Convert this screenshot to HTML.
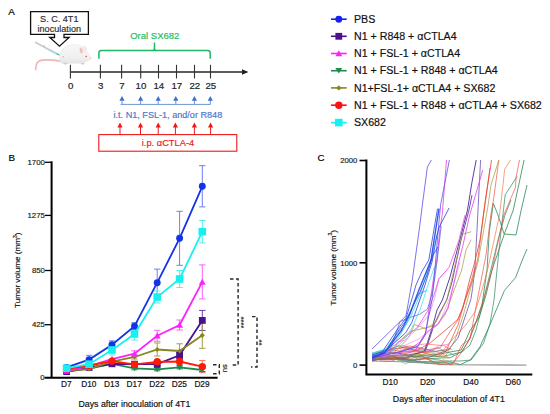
<!DOCTYPE html>
<html><head><meta charset="utf-8"><style>
html,body{margin:0;padding:0;background:#fff;overflow:hidden;width:550px;height:414px;}
svg{display:block;}
text{font-family:"Liberation Sans", sans-serif;stroke-width:0.18px;}
</style></head><body>
<svg width="550" height="414" viewBox="0 0 550 414" font-family='"Liberation Sans", sans-serif'>
<text x="8.2" y="15.1" font-size="9.8" fill="#000" stroke="#000">A</text>
<path d="M30.6 11.6 H88.4 V34.4 H64 V37.5 H69.1 L59.5 46.2 L49.8 37.5 H54.5 V34.4 H30.6 Z" fill="#fff" stroke="#111" stroke-width="1.3" stroke-linejoin="miter"/>
<text x="59.3" y="22.3" font-size="9.1" text-anchor="middle" fill="#303030" stroke="#303030">S. C. 4T1</text>
<text x="59.3" y="31.8" font-size="9.1" text-anchor="middle" fill="#303030" stroke="#303030">inoculation</text>
<defs><linearGradient id="mg" x1="0" y1="0" x2="0" y2="1"><stop offset="0" stop-color="#f6f6f6"/><stop offset="0.65" stop-color="#f0f0f0"/><stop offset="1" stop-color="#e2e2e2"/></linearGradient></defs>
<g>
<path d="M60.5 61.2 C56 60.3 51 59.9 46 59.9 C41 59.9 38.3 61 37 63 C36 64.8 35.7 67 35.7 69.3" fill="none" stroke="#f0b6b6" stroke-width="1.7" stroke-linecap="round"/>
<line x1="35.7" y1="42.5" x2="49.8" y2="50.2" stroke="#cdcdcd" stroke-width="1.9" stroke-linecap="round"/>
<line x1="43.6" y1="44.9" x2="45" y2="47.3" stroke="#bdbdbd" stroke-width="1"/>
<line x1="49.8" y1="50.2" x2="57.6" y2="54.1" stroke="#a9d2e4" stroke-width="1.9"/>
<line x1="56.8" y1="53.7" x2="60" y2="55.2" stroke="#4aa890" stroke-width="1.1"/>
<path d="M59.5 58 C59.5 51 64 46 71 45 C76 44.3 80 45 83 47.3 C86 49.5 88 53 90.2 56 C91.3 57.6 91 59.2 89.5 60.1 C88 61 86 61.5 84.3 62 L84.6 63.4 C83.6 64.2 81.6 64.1 80.6 63.2 L68.5 63.3 C67 64.3 63.8 64.6 62.2 63.6 C60.2 62.6 59.5 60.6 59.5 58 Z" fill="url(#mg)" stroke="#e4e4e4" stroke-width="0.5"/>
<ellipse cx="84.7" cy="48.4" rx="1.5" ry="2.2" fill="#f2f2f2" stroke="#d4d4d4" stroke-width="0.5"/>
<ellipse cx="81.2" cy="50.7" rx="1.9" ry="3.2" transform="rotate(-12 81.2 50.7)" fill="#f0c0c0" stroke="#f8f8f8" stroke-width="0.6"/>
<circle cx="86.1" cy="56.4" r="0.75" fill="#d84848"/>
<circle cx="63.2" cy="56.8" r="0.6" fill="#e07070"/>
<circle cx="90.8" cy="58.2" r="0.6" fill="#eab0b0"/>
<ellipse cx="65.6" cy="63.6" rx="1.8" ry="0.8" fill="#efc0c0"/>
<ellipse cx="82.6" cy="63.7" rx="1.6" ry="0.7" fill="#efc0c0"/>
</g>
<line x1="70.4" y1="72" x2="244" y2="72" stroke="#262626" stroke-width="1.35"/>
<path d="M242 69.3 L248.5 72 L242 74.7 Z" fill="#222"/>
<line x1="70.4" y1="64.8" x2="70.4" y2="78.5" stroke="#333" stroke-width="1.1"/>
<text x="70.7" y="89.0" font-size="9.7" text-anchor="middle" fill="#222" stroke="#222">0</text>
<line x1="100.4" y1="64.8" x2="100.4" y2="78.5" stroke="#333" stroke-width="1.1"/>
<text x="100.7" y="89.0" font-size="9.7" text-anchor="middle" fill="#222" stroke="#222">3</text>
<line x1="121.6" y1="64.8" x2="121.6" y2="78.5" stroke="#333" stroke-width="1.1"/>
<text x="121.89999999999999" y="89.0" font-size="9.7" text-anchor="middle" fill="#222" stroke="#222">7</text>
<line x1="140.7" y1="64.8" x2="140.7" y2="78.5" stroke="#333" stroke-width="1.1"/>
<text x="141.0" y="89.0" font-size="9.7" text-anchor="middle" fill="#222" stroke="#222">10</text>
<line x1="158.5" y1="64.8" x2="158.5" y2="78.5" stroke="#333" stroke-width="1.1"/>
<text x="158.8" y="89.0" font-size="9.7" text-anchor="middle" fill="#222" stroke="#222">14</text>
<line x1="176.5" y1="64.8" x2="176.5" y2="78.5" stroke="#333" stroke-width="1.1"/>
<text x="176.8" y="89.0" font-size="9.7" text-anchor="middle" fill="#222" stroke="#222">17</text>
<line x1="194.5" y1="64.8" x2="194.5" y2="78.5" stroke="#333" stroke-width="1.1"/>
<text x="194.8" y="89.0" font-size="9.7" text-anchor="middle" fill="#222" stroke="#222">22</text>
<line x1="210.5" y1="64.8" x2="210.5" y2="78.5" stroke="#333" stroke-width="1.1"/>
<text x="210.8" y="89.0" font-size="9.7" text-anchor="middle" fill="#222" stroke="#222">25</text>
<path d="M98.9 58.8 V53.1 Q98.9 50.6 101.4 50.6 H152.6 Q154.4 50.6 154.5 48.6 V42.6 M154.5 48.6 Q154.6 50.6 156.4 50.6 H207.7 Q210.2 50.6 210.2 53.1 V58.8" fill="none" stroke="#1fb862" stroke-width="1.5"/>
<text x="154.8" y="38.9" font-size="9.5" text-anchor="middle" fill="#1cc060" stroke="#1cc060">Oral SX682</text>
<line x1="120.6" y1="104.4" x2="210.6" y2="104.4" stroke="#6f95d6" stroke-width="1"/>
<line x1="122.0" y1="99" x2="122.0" y2="104.4" stroke="#6f95d6" stroke-width="1"/>
<path d="M119.4 100.8 L122.0 96 L124.6 100.8 Z" fill="#3e6ed0"/>
<line x1="140.6" y1="99" x2="140.6" y2="104.4" stroke="#6f95d6" stroke-width="1"/>
<path d="M138.0 100.8 L140.6 96 L143.2 100.8 Z" fill="#3e6ed0"/>
<line x1="158.2" y1="99" x2="158.2" y2="104.4" stroke="#6f95d6" stroke-width="1"/>
<path d="M155.6 100.8 L158.2 96 L160.79999999999998 100.8 Z" fill="#3e6ed0"/>
<line x1="175.8" y1="99" x2="175.8" y2="104.4" stroke="#6f95d6" stroke-width="1"/>
<path d="M173.20000000000002 100.8 L175.8 96 L178.4 100.8 Z" fill="#3e6ed0"/>
<line x1="194.4" y1="99" x2="194.4" y2="104.4" stroke="#6f95d6" stroke-width="1"/>
<path d="M191.8 100.8 L194.4 96 L197.0 100.8 Z" fill="#3e6ed0"/>
<line x1="210.3" y1="99" x2="210.3" y2="104.4" stroke="#6f95d6" stroke-width="1"/>
<path d="M207.70000000000002 100.8 L210.3 96 L212.9 100.8 Z" fill="#3e6ed0"/>
<text x="167.9" y="117.6" font-size="9.1" text-anchor="middle" fill="#4a78d0" stroke="#4a78d0">i.t. N1, FSL-1, and/or R848</text>
<line x1="120.0" y1="126" x2="120.0" y2="134.6" stroke="#f01818" stroke-width="1"/>
<path d="M117.4 127.5 L120.0 122.6 L122.6 127.5 Z" fill="#f01818"/>
<line x1="140.5" y1="126" x2="140.5" y2="134.6" stroke="#f01818" stroke-width="1"/>
<path d="M137.9 127.5 L140.5 122.6 L143.1 127.5 Z" fill="#f01818"/>
<line x1="158.2" y1="126" x2="158.2" y2="134.6" stroke="#f01818" stroke-width="1"/>
<path d="M155.6 127.5 L158.2 122.6 L160.79999999999998 127.5 Z" fill="#f01818"/>
<line x1="175.4" y1="126" x2="175.4" y2="134.6" stroke="#f01818" stroke-width="1"/>
<path d="M172.8 127.5 L175.4 122.6 L178.0 127.5 Z" fill="#f01818"/>
<line x1="194.4" y1="126" x2="194.4" y2="134.6" stroke="#f01818" stroke-width="1"/>
<path d="M191.8 127.5 L194.4 122.6 L197.0 127.5 Z" fill="#f01818"/>
<line x1="210.6" y1="126" x2="210.6" y2="134.6" stroke="#f01818" stroke-width="1"/>
<path d="M208.0 127.5 L210.6 122.6 L213.2 127.5 Z" fill="#f01818"/>
<rect x="98.8" y="134.6" width="138" height="16.6" fill="none" stroke="#f01818" stroke-width="1.1"/>
<text x="168" y="145.6" font-size="9.3" text-anchor="middle" fill="#f01818" stroke="#f01818">i.p. αCTLA-4</text>
<line x1="331" y1="19.2" x2="346.7" y2="19.2" stroke="#1420f5" stroke-width="1.6"/>
<circle cx="338.8" cy="19.2" r="3.45" fill="#1420f5"/>
<text x="354" y="22.9" font-size="10.65" fill="#111" stroke="#111">PBS</text>
<line x1="331" y1="36.3" x2="346.7" y2="36.3" stroke="#4a1090" stroke-width="1.6"/>
<rect x="335.40000000000003" y="32.9" width="6.8" height="6.8" fill="#4a1090"/>
<text x="354" y="40.0" font-size="10.65" fill="#111" stroke="#111">N1 + R848 + αCTLA4</text>
<line x1="331" y1="53.5" x2="346.7" y2="53.5" stroke="#ff20ff" stroke-width="1.6"/>
<path d="M338.8 50.3 L342.2 56.3 L335.40000000000003 56.3 Z" fill="#ff20ff"/>
<text x="354" y="57.2" font-size="10.65" fill="#111" stroke="#111">N1 + FSL-1 + αCTLA4</text>
<line x1="331" y1="70.7" x2="346.7" y2="70.7" stroke="#1f8a4c" stroke-width="1.6"/>
<path d="M338.8 73.60000000000001 L342.2 67.9 L335.40000000000003 67.9 Z" fill="#1f8a4c"/>
<text x="354" y="74.4" font-size="10.65" fill="#111" stroke="#111">N1 + FSL-1 + R848 + αCTLA4</text>
<line x1="331" y1="87.9" x2="346.7" y2="87.9" stroke="#86861e" stroke-width="1.6"/>
<path d="M338.8 85.30000000000001 L341.40000000000003 87.9 L338.8 90.5 L336.2 87.9 Z" fill="#86861e"/>
<text x="354" y="91.60000000000001" font-size="10.65" fill="#111" stroke="#111">N1+FSL-1+ αCTLA4 + SX682</text>
<line x1="331" y1="105.2" x2="346.7" y2="105.2" stroke="#ff1010" stroke-width="1.6"/>
<circle cx="338.8" cy="105.2" r="3.7" fill="#ff1010"/>
<text x="354" y="108.9" font-size="10.65" fill="#111" stroke="#111">N1 + FSL-1 + R848 + αCTLA4 + SX682</text>
<line x1="331" y1="122.6" x2="346.7" y2="122.6" stroke="#18f0f0" stroke-width="1.6"/>
<rect x="335.0" y="118.8" width="7.6" height="7.6" fill="#18f0f0"/>
<text x="354" y="126.3" font-size="10.65" fill="#111" stroke="#111">SX682</text>
<text x="8.4" y="160.9" font-size="9.8" fill="#000" stroke="#000">B</text>
<path d="M134.5 366.8 V369.8 M131.3 366.8 H137.7 M131.3 369.8 H137.7" stroke="#1f8a4c" stroke-width="1" fill="none"/>
<path d="M157.2 367.8 V370.8 M154.0 367.8 H160.39999999999998 M154.0 370.8 H160.39999999999998" stroke="#1f8a4c" stroke-width="1" fill="none"/>
<path d="M179.6 365.9 V368.9 M176.4 365.9 H182.79999999999998 M176.4 368.9 H182.79999999999998" stroke="#1f8a4c" stroke-width="1" fill="none"/>
<path d="M202.3 368.5 V371.5 M199.10000000000002 368.5 H205.5 M199.10000000000002 371.5 H205.5" stroke="#1f8a4c" stroke-width="1" fill="none"/>
<path d="M157.2 362.2 V366.2 M154.0 362.2 H160.39999999999998 M154.0 366.2 H160.39999999999998" stroke="#6a40b0" stroke-width="1" fill="none"/>
<path d="M179.6 352.3 V358.3 M176.4 352.3 H182.79999999999998 M176.4 358.3 H182.79999999999998" stroke="#6a40b0" stroke-width="1" fill="none"/>
<path d="M202.3 310.4 V330.4 M199.10000000000002 310.4 H205.5 M199.10000000000002 330.4 H205.5" stroke="#6a40b0" stroke-width="1" fill="none"/>
<path d="M134.5 355.0 V359.0 M131.3 355.0 H137.7 M131.3 359.0 H137.7" stroke="#a0a040" stroke-width="1" fill="none"/>
<path d="M157.2 343.0 V356.0 M154.0 343.0 H160.39999999999998 M154.0 356.0 H160.39999999999998" stroke="#a0a040" stroke-width="1" fill="none"/>
<path d="M179.6 343.8 V358.2 M176.4 343.8 H182.79999999999998 M176.4 358.2 H182.79999999999998" stroke="#a0a040" stroke-width="1" fill="none"/>
<path d="M202.3 322.3 V348.3 M199.10000000000002 322.3 H205.5 M199.10000000000002 348.3 H205.5" stroke="#a0a040" stroke-width="1" fill="none"/>
<path d="M134.5 350.8 V356.40000000000003 M131.3 350.8 H137.7 M131.3 356.40000000000003 H137.7" stroke="#ff60ff" stroke-width="1" fill="none"/>
<path d="M157.2 330.3 V341.3 M154.0 330.3 H160.39999999999998 M154.0 341.3 H160.39999999999998" stroke="#ff60ff" stroke-width="1" fill="none"/>
<path d="M179.6 320.0 V330.0 M176.4 320.0 H182.79999999999998 M176.4 330.0 H182.79999999999998" stroke="#ff60ff" stroke-width="1" fill="none"/>
<path d="M202.3 264.9 V298.9 M199.10000000000002 264.9 H205.5 M199.10000000000002 298.9 H205.5" stroke="#ff60ff" stroke-width="1" fill="none"/>
<path d="M157.2 360.3 V363.3 M154.0 360.3 H160.39999999999998 M154.0 363.3 H160.39999999999998" stroke="#ff7060" stroke-width="1" fill="none"/>
<path d="M179.6 360.0 V363.0 M176.4 360.0 H182.79999999999998 M176.4 363.0 H182.79999999999998" stroke="#ff7060" stroke-width="1" fill="none"/>
<path d="M202.3 360.6 V372.6 M199.10000000000002 360.6 H205.5 M199.10000000000002 372.6 H205.5" stroke="#ff7060" stroke-width="1" fill="none"/>
<path d="M89.1 355.3 V363.90000000000003 M85.89999999999999 355.3 H92.3 M85.89999999999999 363.90000000000003 H92.3" stroke="#6a80f0" stroke-width="1" fill="none"/>
<path d="M112.0 340.9 V348.5 M108.8 340.9 H115.2 M108.8 348.5 H115.2" stroke="#6a80f0" stroke-width="1" fill="none"/>
<path d="M134.5 322.70000000000005 V329.5 M131.3 322.70000000000005 H137.7 M131.3 329.5 H137.7" stroke="#6a80f0" stroke-width="1" fill="none"/>
<path d="M157.2 269.09999999999997 V296.3 M154.0 269.09999999999997 H160.39999999999998 M154.0 296.3 H160.39999999999998" stroke="#6a80f0" stroke-width="1" fill="none"/>
<path d="M179.6 211.3 V265.3 M176.4 211.3 H182.79999999999998 M176.4 265.3 H182.79999999999998" stroke="#6a80f0" stroke-width="1" fill="none"/>
<path d="M202.3 165.70000000000002 V206.9 M199.10000000000002 165.70000000000002 H205.5 M199.10000000000002 206.9 H205.5" stroke="#6a80f0" stroke-width="1" fill="none"/>
<path d="M112.0 345.0 V355.0 M108.8 345.0 H115.2 M108.8 355.0 H115.2" stroke="#50f0f0" stroke-width="1" fill="none"/>
<path d="M134.5 328.0 V340.0 M131.3 328.0 H137.7 M131.3 340.0 H137.7" stroke="#50f0f0" stroke-width="1" fill="none"/>
<path d="M157.2 291.0 V303.0 M154.0 291.0 H160.39999999999998 M154.0 303.0 H160.39999999999998" stroke="#50f0f0" stroke-width="1" fill="none"/>
<path d="M179.6 270.5 V287.5 M176.4 270.5 H182.79999999999998 M176.4 287.5 H182.79999999999998" stroke="#50f0f0" stroke-width="1" fill="none"/>
<path d="M202.3 220.5 V242.89999999999998 M199.10000000000002 220.5 H205.5 M199.10000000000002 242.89999999999998 H205.5" stroke="#50f0f0" stroke-width="1" fill="none"/>
<polyline points="66.6,371.5 89.1,368.5 112.0,363.8 134.5,368.3 157.2,369.3 179.6,367.4 202.3,370.0" fill="none" stroke="#1f8a4c" stroke-width="1.8"/>
<path d="M66.6 374.4 L70.0 368.7 L63.199999999999996 368.7 Z" fill="#1f8a4c"/>
<path d="M89.1 371.4 L92.5 365.7 L85.69999999999999 365.7 Z" fill="#1f8a4c"/>
<path d="M112.0 366.7 L115.4 361.0 L108.6 361.0 Z" fill="#1f8a4c"/>
<path d="M134.5 371.2 L137.9 365.5 L131.1 365.5 Z" fill="#1f8a4c"/>
<path d="M157.2 372.2 L160.6 366.5 L153.79999999999998 366.5 Z" fill="#1f8a4c"/>
<path d="M179.6 370.29999999999995 L183.0 364.59999999999997 L176.2 364.59999999999997 Z" fill="#1f8a4c"/>
<path d="M202.3 372.9 L205.70000000000002 367.2 L198.9 367.2 Z" fill="#1f8a4c"/>
<polyline points="66.6,371.6 89.1,367.5 112.0,363.8 134.5,364.2 157.2,364.2 179.6,355.3 202.3,320.4" fill="none" stroke="#4a1090" stroke-width="1.8"/>
<rect x="63.199999999999996" y="368.20000000000005" width="6.8" height="6.8" fill="#4a1090"/>
<rect x="85.69999999999999" y="364.1" width="6.8" height="6.8" fill="#4a1090"/>
<rect x="108.6" y="360.40000000000003" width="6.8" height="6.8" fill="#4a1090"/>
<rect x="131.1" y="360.8" width="6.8" height="6.8" fill="#4a1090"/>
<rect x="153.79999999999998" y="360.8" width="6.8" height="6.8" fill="#4a1090"/>
<rect x="176.2" y="351.90000000000003" width="6.8" height="6.8" fill="#4a1090"/>
<rect x="198.9" y="317.0" width="6.8" height="6.8" fill="#4a1090"/>
<polyline points="66.6,370.5 89.1,369.0 112.0,361.5 134.5,357.0 157.2,349.5 179.6,351.0 202.3,335.3" fill="none" stroke="#86861e" stroke-width="1.8"/>
<path d="M66.6 367.9 L69.19999999999999 370.5 L66.6 373.1 L63.99999999999999 370.5 Z" fill="#86861e"/>
<path d="M89.1 366.4 L91.69999999999999 369.0 L89.1 371.6 L86.5 369.0 Z" fill="#86861e"/>
<path d="M112.0 358.9 L114.6 361.5 L112.0 364.1 L109.4 361.5 Z" fill="#86861e"/>
<path d="M134.5 354.4 L137.1 357.0 L134.5 359.6 L131.9 357.0 Z" fill="#86861e"/>
<path d="M157.2 346.9 L159.79999999999998 349.5 L157.2 352.1 L154.6 349.5 Z" fill="#86861e"/>
<path d="M179.6 348.4 L182.2 351.0 L179.6 353.6 L177.0 351.0 Z" fill="#86861e"/>
<path d="M202.3 332.7 L204.9 335.3 L202.3 337.90000000000003 L199.70000000000002 335.3 Z" fill="#86861e"/>
<polyline points="66.6,371.0 89.1,366.0 112.0,359.0 134.5,353.6 157.2,335.8 179.6,325.0 202.3,281.9" fill="none" stroke="#ff20ff" stroke-width="1.8"/>
<path d="M66.6 367.8 L70.0 373.8 L63.199999999999996 373.8 Z" fill="#ff20ff"/>
<path d="M89.1 362.8 L92.5 368.8 L85.69999999999999 368.8 Z" fill="#ff20ff"/>
<path d="M112.0 355.8 L115.4 361.8 L108.6 361.8 Z" fill="#ff20ff"/>
<path d="M134.5 350.40000000000003 L137.9 356.40000000000003 L131.1 356.40000000000003 Z" fill="#ff20ff"/>
<path d="M157.2 332.6 L160.6 338.6 L153.79999999999998 338.6 Z" fill="#ff20ff"/>
<path d="M179.6 321.8 L183.0 327.8 L176.2 327.8 Z" fill="#ff20ff"/>
<path d="M202.3 278.7 L205.70000000000002 284.7 L198.9 284.7 Z" fill="#ff20ff"/>
<polyline points="66.6,368.8 89.1,365.5 112.0,361.1 134.5,364.4 157.2,361.8 179.6,361.5 202.3,366.6" fill="none" stroke="#ff1a0a" stroke-width="1.8"/>
<circle cx="66.6" cy="368.8" r="3.7" fill="#ff1a0a"/>
<circle cx="89.1" cy="365.5" r="3.7" fill="#ff1a0a"/>
<circle cx="112.0" cy="361.1" r="3.7" fill="#ff1a0a"/>
<circle cx="134.5" cy="364.4" r="3.7" fill="#ff1a0a"/>
<circle cx="157.2" cy="361.8" r="3.7" fill="#ff1a0a"/>
<circle cx="179.6" cy="361.5" r="3.7" fill="#ff1a0a"/>
<circle cx="202.3" cy="366.6" r="3.7" fill="#ff1a0a"/>
<polyline points="66.6,367.4 89.1,359.6 112.0,344.7 134.5,326.1 157.2,282.7 179.6,238.3 202.3,186.3" fill="none" stroke="#1432e8" stroke-width="1.8"/>
<circle cx="66.6" cy="367.4" r="3.45" fill="#1432e8"/>
<circle cx="89.1" cy="359.6" r="3.45" fill="#1432e8"/>
<circle cx="112.0" cy="344.7" r="3.45" fill="#1432e8"/>
<circle cx="134.5" cy="326.1" r="3.45" fill="#1432e8"/>
<circle cx="157.2" cy="282.7" r="3.45" fill="#1432e8"/>
<circle cx="179.6" cy="238.3" r="3.45" fill="#1432e8"/>
<circle cx="202.3" cy="186.3" r="3.45" fill="#1432e8"/>
<polyline points="66.6,368.2 89.1,364.2 112.0,350.0 134.5,334.0 157.2,297.0 179.6,279.0 202.3,231.7" fill="none" stroke="#18f0f0" stroke-width="1.8"/>
<rect x="62.8" y="364.4" width="7.6" height="7.6" fill="#18f0f0"/>
<rect x="85.3" y="360.4" width="7.6" height="7.6" fill="#18f0f0"/>
<rect x="108.2" y="346.2" width="7.6" height="7.6" fill="#18f0f0"/>
<rect x="130.7" y="330.2" width="7.6" height="7.6" fill="#18f0f0"/>
<rect x="153.39999999999998" y="293.2" width="7.6" height="7.6" fill="#18f0f0"/>
<rect x="175.79999999999998" y="275.2" width="7.6" height="7.6" fill="#18f0f0"/>
<rect x="198.5" y="227.89999999999998" width="7.6" height="7.6" fill="#18f0f0"/>
<path d="M51.6 161.3 V378.6 M44.6 377.8 H217.6" stroke="#000" stroke-width="2" fill="none"/>
<line x1="45" y1="162.3" x2="51" y2="162.3" stroke="#000" stroke-width="1.3"/>
<text x="44.9" y="165.0" font-size="7.8" text-anchor="end" fill="#222" stroke="#222">1700</text>
<line x1="45" y1="215.4" x2="51" y2="215.4" stroke="#000" stroke-width="1.3"/>
<text x="44.9" y="218.1" font-size="7.8" text-anchor="end" fill="#222" stroke="#222">1275</text>
<line x1="45" y1="270.5" x2="51" y2="270.5" stroke="#000" stroke-width="1.3"/>
<text x="44.9" y="273.2" font-size="7.8" text-anchor="end" fill="#222" stroke="#222">850</text>
<line x1="45" y1="324.7" x2="51" y2="324.7" stroke="#000" stroke-width="1.3"/>
<text x="44.9" y="327.4" font-size="7.8" text-anchor="end" fill="#222" stroke="#222">425</text>
<text x="44.5" y="380.4" font-size="7.8" text-anchor="end" fill="#222" stroke="#222">0</text>
<text x="66.3" y="387.1" font-size="8.3" text-anchor="middle" fill="#111" stroke="#111">D7</text>
<text x="88.8" y="387.1" font-size="8.3" text-anchor="middle" fill="#111" stroke="#111">D10</text>
<text x="111.7" y="387.1" font-size="8.3" text-anchor="middle" fill="#111" stroke="#111">D13</text>
<text x="134.2" y="387.1" font-size="8.3" text-anchor="middle" fill="#111" stroke="#111">D17</text>
<text x="156.89999999999998" y="387.1" font-size="8.3" text-anchor="middle" fill="#111" stroke="#111">D22</text>
<text x="179.29999999999998" y="387.1" font-size="8.3" text-anchor="middle" fill="#111" stroke="#111">D25</text>
<text x="202.0" y="387.1" font-size="8.3" text-anchor="middle" fill="#111" stroke="#111">D29</text>
<text transform="translate(19.8 270.3) rotate(-90)" font-size="8.1" text-anchor="middle" fill="#111" stroke="#111">Tumor volume (mm<tspan font-size="5" dy="-3.2">3</tspan><tspan dy="3.2">)</tspan></text>
<text x="134.4" y="406.6" font-size="8.8" text-anchor="middle" fill="#111" stroke="#111">Days after inoculation of 4T1</text>
<path d="M230 279 H238.1 V365 H231.5" stroke="#2a2a2a" stroke-width="1.45" fill="none" stroke-dasharray="3.5 2.5"/>
<path d="M252 316.6 H257 V367 H251" stroke="#2a2a2a" stroke-width="1.45" fill="none" stroke-dasharray="3.5 2.5"/>
<path d="M213 364.8 H219.3 V373.8 H213" stroke="#2a2a2a" stroke-width="1.45" fill="none" stroke-dasharray="3.5 2.5"/>
<text transform="translate(245.5 322.3) rotate(-90)" font-size="7.5" text-anchor="middle" fill="#222" stroke="#222">****</text>
<text transform="translate(263.6 342.5) rotate(-90)" font-size="7.5" text-anchor="middle" fill="#222" stroke="#222">**</text>
<text transform="translate(227.2 368.2) rotate(-90)" font-size="7.5" text-anchor="middle" fill="#222" stroke="#222">ns</text>
<text x="317.6" y="160.9" font-size="9.8" fill="#000" stroke="#000">C</text>
<g><polyline points="372,358 393.6,358.5 409.6,362 428.5,363 446,364.6 526.5,365.1" fill="none" stroke="#a0a0a0" stroke-width="1.3" stroke-linejoin="round"/>
<polyline points="372,361 390,356 405,359 415,354 424.2,351.2 427.5,342.5 433,325 437,310 442.4,300 450,277 459.8,240 467.5,210 471.9,182.5 476.2,160" fill="none" stroke="#4e2896" stroke-width="1.0" stroke-linejoin="round" stroke-opacity="0.9"/>
<polyline points="372,358 392,352 408,355 425,352 428.5,342 434,325 440,312 446.7,300 452,282 461,240 469,210 472,195" fill="none" stroke="#4e2896" stroke-width="0.9" stroke-linejoin="round" stroke-opacity="0.9"/>
<polyline points="372,360 395,358 412,361 430,357 448.2,350 458,338 461.3,328.3 471,298.8 472.5,288.7 474.8,270 477,230 478.5,200 480.6,160" fill="none" stroke="#7050b8" stroke-width="0.9" stroke-linejoin="round" stroke-opacity="0.9"/>
<polyline points="372,355.7 383.8,358.2 391.4,355.7 398.9,351.3 409.9,348.1 419.7,347.6 427.7,349.9 435.3,351.3 442.9,350.5 451.0,348.2" fill="none" stroke="#4e2896" stroke-width="0.7" stroke-linejoin="round" stroke-opacity="0.7"/>
<polyline points="372,360 400,358 427.5,363.2 450,362 460.3,364.5 470.4,360 480,346.6 487.6,330 492,320 504.5,290.4 515.5,277.7 522.3,260 527,249" fill="none" stroke="#2e8c5e" stroke-width="0.9" stroke-linejoin="round" stroke-opacity="0.9"/>
<polyline points="372,358 405,357 437.3,354.5 450,352 461.3,350 470,330.5 479,318 486,295 492,270 504.6,233.2 513.3,210 524.1,160" fill="none" stroke="#2e8c5e" stroke-width="0.9" stroke-linejoin="round" stroke-opacity="0.9"/>
<polyline points="372,359 410,360 440,358 450.4,357.7 462.4,351.2 470,338 476,322 482,305 487,270 489.3,231.7 493.3,203.5 498,215 504.1,234 516,235 521.2,210 527,185" fill="none" stroke="#2e8c5e" stroke-width="0.9" stroke-linejoin="round" stroke-opacity="0.9"/>
<polyline points="372,361 410,362 445,361 460,361 471.2,360 483.5,343.3 490,323.7 494,300 497,270 500,240 503,214 505.2,194.8 517.2,176.3" fill="none" stroke="#2e8c5e" stroke-width="0.8" stroke-linejoin="round" stroke-opacity="0.9"/>
<polyline points="372,357 400,355 425,357 445,356 462,352 470,345 476,330 481,310 486,290 492,265 498,240 505,215 511,200" fill="none" stroke="#2e8c5e" stroke-width="0.8" stroke-linejoin="round" stroke-opacity="0.9"/>
<polyline points="372,357.9 379.8,353.1 389.4,348.7 397.4,346.1 404.5,345.7 413.7,349.2 423.3,350.6 432.8,352.2 442.1,350.0 454.1,354.9" fill="none" stroke="#2e8c5e" stroke-width="0.7" stroke-linejoin="round" stroke-opacity="0.7"/>
<polyline points="372,356.6 383.8,356.5 393.7,360.1 401.6,356.7 413.1,359.8 421.4,356.7 432.1,361.1 440.1,364 451.5,364" fill="none" stroke="#2e8c5e" stroke-width="0.7" stroke-linejoin="round" stroke-opacity="0.7"/>
<polyline points="372,355.2 381.2,350.8 389.1,349.4 399.0,345.8 407.8,349.7 419.7,351.2 430.1,352.1 437.8,347.4 444.9,351.5" fill="none" stroke="#7a6a3a" stroke-width="0.7" stroke-linejoin="round" stroke-opacity="0.7"/>
<polyline points="372,357 392,349.3 405,347 416,351.2 430.7,342.5 451.5,325 458,319 463,307.5 469.6,280 474,265 480,240 485,202.8 491.5,160" fill="none" stroke="#ec4434" stroke-width="1.0" stroke-linejoin="round" stroke-opacity="0.8"/>
<polyline points="372,358 392,350 405,352 416,350.8 438.4,356.6 446,351.2 458,325 465,300 472.5,280 478,258 483.5,215 490,168" fill="none" stroke="#ec4434" stroke-width="0.9" stroke-linejoin="round" stroke-opacity="0.8"/>
<polyline points="372,359 400,356 420,355 438.4,364.8 453.6,363.2 461.6,345 470,339.2 475,312 481.2,280 486,255 490.8,215 493.7,198.5 498.8,160" fill="none" stroke="#ec4434" stroke-width="0.8" stroke-linejoin="round" stroke-opacity="0.8"/>
<polyline points="372,356 405,352 425,352 439.5,354.5 452,340 465.6,325 475,312 482,290 488,268 499.5,215 503.1,184 504.6,169.5 510.4,160" fill="none" stroke="#e8703c" stroke-width="0.8" stroke-linejoin="round" stroke-opacity="0.8"/>
<polyline points="372,360 410,357 440,360 451.6,365 460.3,354 468,342 476,322 484,298 492,270 503.8,215 515.4,187.6 516.2,176.7 519.5,160" fill="none" stroke="#ec4434" stroke-width="0.8" stroke-linejoin="round" stroke-opacity="0.8"/>
<polyline points="372,355 395,349 410,346 425,350 440,348 450,331.7 458,320 465.4,299.8 470,285 475,267.5" fill="none" stroke="#ec4434" stroke-width="0.8" stroke-linejoin="round" stroke-opacity="0.8"/>
<polyline points="372,356.6 381.8,360.9 391.1,360.9 401.1,357.8 410.6,359.1 421.6,355.0 430.1,350.9 441.2,352.9 448.4,357.7" fill="none" stroke="#ec4434" stroke-width="0.7" stroke-linejoin="round" stroke-opacity="0.7"/>
<polyline points="372,353.3 383.8,350.7 394.3,348.3 405.5,349.2 413.9,346.0 424.5,344 432.7,344.6 443.9,345.7 452.3,349.9" fill="none" stroke="#ec4434" stroke-width="0.7" stroke-linejoin="round" stroke-opacity="0.7"/>
<polyline points="372,357 395,352 408.7,337.5 414.5,324.5 426,328.8 436,322 446.7,300 457.6,254.5 461.7,234.6 471.2,231.7" fill="none" stroke="#a09c40" stroke-width="0.8" stroke-linejoin="round" stroke-opacity="0.9"/>
<polyline points="372,356 395,345 410,331.5 437.3,325 445,315 450.4,300 461.7,270 466,250 471.2,239.7" fill="none" stroke="#a09c40" stroke-width="0.8" stroke-linejoin="round" stroke-opacity="0.9"/>
<polyline points="372,359 410,354 430,355 445,357 455,340 463,316.2 472.5,281.4 478,262 487.8,207.2 491,185 498.8,160" fill="none" stroke="#a09c40" stroke-width="0.8" stroke-linejoin="round" stroke-opacity="0.9"/>
<polyline points="372,355.5 380.1,353.4 387.5,356.1 396.5,359.5 405.4,364 416.7,359.0 424.7,363.1 434.1,364 443.1,359.7 453.2,362.5" fill="none" stroke="#a09c40" stroke-width="0.7" stroke-linejoin="round" stroke-opacity="0.7"/>
<polyline points="372,357 394,349.3 397.9,341.6 404.6,340.6 409.4,335.8 416,330 429,315 434.8,297.5 439,278.7 447,270" fill="none" stroke="#f08ae2" stroke-width="0.8" stroke-linejoin="round" stroke-opacity="0.9"/>
<polyline points="372,358 400,347.7 418.8,339 439,323.8 450,297 455,280 460,262" fill="none" stroke="#f08ae2" stroke-width="0.7" stroke-linejoin="round" stroke-opacity="0.9"/>
<polyline points="372,356 395,353 410,349 420,342 426,332 429,309 434.8,270 436.8,260 440,228.8 442.2,215 446.5,160" fill="none" stroke="#e040ee" stroke-width="0.9" stroke-linejoin="round" stroke-opacity="0.9"/>
<polyline points="372,357 400,355 415,351 427.5,331.5 437,325 448,308.5 458,265 463,245 469.7,215 482.8,170" fill="none" stroke="#e040ee" stroke-width="0.9" stroke-linejoin="round" stroke-opacity="0.9"/>
<polyline points="372,356 390,352 400,341.2 417.4,327.4 428.3,310 434,295 438.8,279 449,267.5 459,240 465,215" fill="none" stroke="#e040ee" stroke-width="0.8" stroke-linejoin="round" stroke-opacity="0.9"/>
<polyline points="372,355.4 383.4,352.5 392.4,356.1 402.6,352.1 414.6,349.2 422.8,351.9 431.5,349.9 438.9,345.8 448.8,344" fill="none" stroke="#e040ee" stroke-width="0.7" stroke-linejoin="round" stroke-opacity="0.7"/>
<polyline points="372,349 406,315.8 412.3,280 419.2,230 423,200 427.4,167 431.4,160" fill="none" stroke="#5c56e2" stroke-width="0.9" stroke-linejoin="round" stroke-opacity="0.9"/>
<polyline points="372,360 390,350 400,321.6 408.7,318 419.6,314.3 427.5,309 433,290 437,262 441.2,226" fill="none" stroke="#5c56e2" stroke-width="0.8" stroke-linejoin="round" stroke-opacity="0.9"/>
<polyline points="372,358 400,352 418,346 425,335 430,310 432,300 435.3,265 438.3,229 440.7,204.3 449.4,160" fill="none" stroke="#5c56e2" stroke-width="0.9" stroke-linejoin="round" stroke-opacity="0.9"/>
<polyline points="372,354 385,350 399.8,330 406,324.5 417.4,294.6 426.8,290.3" fill="none" stroke="#26d4ea" stroke-width="1.0" stroke-linejoin="round" stroke-opacity="0.9"/>
<polyline points="372,353 390,348 400,335 410,318 420,295 431,260 437.5,233" fill="none" stroke="#26d4ea" stroke-width="0.9" stroke-linejoin="round" stroke-opacity="0.9"/>
<polyline points="372,355 392,351 402,342 410,332 420,310 428,285 434.8,266" fill="none" stroke="#26d4ea" stroke-width="0.7" stroke-linejoin="round" stroke-opacity="0.9"/>
<polyline points="372,355 382.4,351.7 397,330 406,318 411,302 416,285 421.7,272 428.8,260 437.5,208.7" fill="none" stroke="#2a44e4" stroke-width="0.9" stroke-linejoin="round" stroke-opacity="0.9"/>
<polyline points="372,357 384.3,353.2 401.7,330 410,313.5 418.8,290.3 425,275 431,260 439,208.7" fill="none" stroke="#2a44e4" stroke-width="1.4" stroke-linejoin="round" stroke-opacity="0.9"/>
<polyline points="372,358 385.3,352 398.8,330 405,322 413,306 420,292 427,275 433,255 438,247" fill="none" stroke="#2a44e4" stroke-width="0.9" stroke-linejoin="round" stroke-opacity="0.9"/>
<polyline points="372,359 387.2,349.3 405.6,332.9 412,322 418,305 425,285 432,262 436.8,236 439,227.5 449.1,208" fill="none" stroke="#2a44e4" stroke-width="0.9" stroke-linejoin="round" stroke-opacity="0.9"/></g>
<path d="M366.4 159.5 V375.4 M365.4 374.5 H532.3" stroke="#000" stroke-width="2" fill="none"/>
<line x1="359.5" y1="160.5" x2="366" y2="160.5" stroke="#000" stroke-width="1.6"/>
<text x="357.3" y="163.2" font-size="7.7" text-anchor="end" fill="#222" stroke="#222">2000</text>
<line x1="359.5" y1="262.8" x2="366" y2="262.8" stroke="#000" stroke-width="1.6"/>
<text x="357.3" y="265.5" font-size="7.7" text-anchor="end" fill="#222" stroke="#222">1000</text>
<line x1="359.5" y1="365.1" x2="366" y2="365.1" stroke="#000" stroke-width="1.6"/>
<text x="357.3" y="367.8" font-size="7.7" text-anchor="end" fill="#222" stroke="#222">0</text>
<text x="390.2" y="385.2" font-size="8.3" text-anchor="middle" fill="#111" stroke="#111">D10</text>
<text x="427.6" y="385.2" font-size="8.3" text-anchor="middle" fill="#111" stroke="#111">D20</text>
<text x="470.9" y="385.2" font-size="8.3" text-anchor="middle" fill="#111" stroke="#111">D40</text>
<text x="513.2" y="385.2" font-size="8.3" text-anchor="middle" fill="#111" stroke="#111">D60</text>
<text transform="translate(335.6 267.8) rotate(-90)" font-size="8.1" text-anchor="middle" fill="#111" stroke="#111">Tumor volume (mm<tspan font-size="5" dy="-3.2">3</tspan><tspan dy="3.2">)</tspan></text>
<text x="448.8" y="401.6" font-size="8.8" text-anchor="middle" fill="#111" stroke="#111">Days after inoculation of 4T1</text>
</svg>
</body></html>
